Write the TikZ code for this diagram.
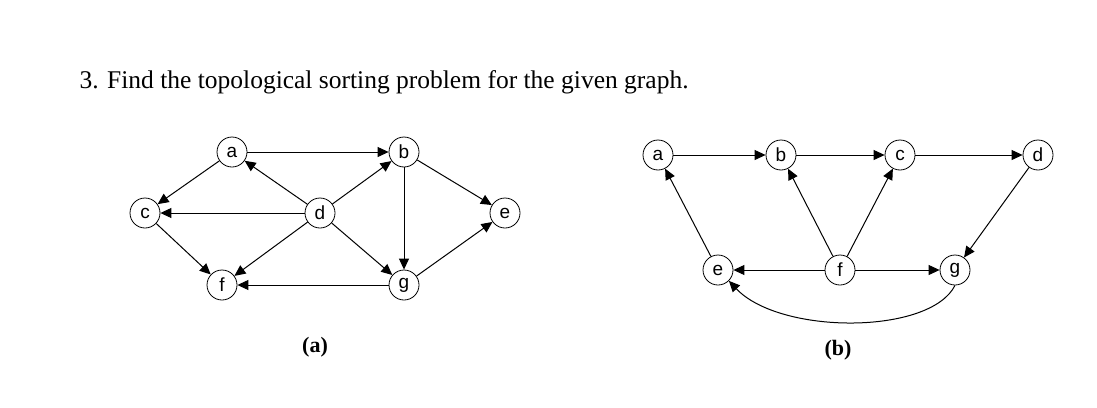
\documentclass[tikz,border=0pt]{standalone}
\usepackage{fontspec}
\setmainfont{Liberation Serif}
\newfontfamily\lab{Liberation Sans}
\usetikzlibrary{arrows.meta}
\begin{document}
\begin{tikzpicture}[x=1pt,y=-1pt,
  v/.style={circle,draw,minimum size=30pt,inner sep=0pt,line width=0.8pt,font=\lab\fontsize{19}{19}\selectfont},
  e/.style={draw,line width=1pt,-{Triangle[length=11pt,width=10pt]}}]
\useasboundingbox (0,0) rectangle (1097,407);
\node[anchor=west,font=\fontsize{25.5}{27}\selectfont] (t) at (76,82) {3. Find the topological sorting problem for the given graph.};
\node[v] (a) at (232,152) {a};
\node[v] (b) at (404,152) {b};
\node[v] (c) at (145,213) {c};
\node[v] (d) at (320,213) {d};
\node[v] (e) at (505,213) {e};
\node[v] (f) at (222,285) {f};
\node[v] (g) at (404,285) {g};
\foreach \s/\t in {a/b,a/c,d/a,d/c,c/f,d/f,d/g,d/b,b/g,b/e,g/f,g/e} \draw[e] (\s)--(\t);
\node[font=\bfseries\fontsize{22}{24}\selectfont] (la) at (315,347) {(a)};
\node[v] (A) at (658,155) {a};
\node[v] (B) at (781,155) {b};
\node[v] (C) at (900,155) {c};
\node[v] (D) at (1038,155) {d};
\node[v] (E) at (718,270) {e};
\node[v] (F) at (840,270) {f};
\node[v] (G) at (955,270) {g};
\foreach \s/\t in {A/B,B/C,C/D,E/A,F/B,F/C,F/E,F/G,D/G} \draw[e] (\s)--(\t);
\draw[e] (G.south) .. controls (930,335) and (780,335) .. (E.south east);
\node[font=\bfseries\fontsize{22}{24}\selectfont] (lb) at (838,350) {(b)};
\end{tikzpicture}
\end{document}
